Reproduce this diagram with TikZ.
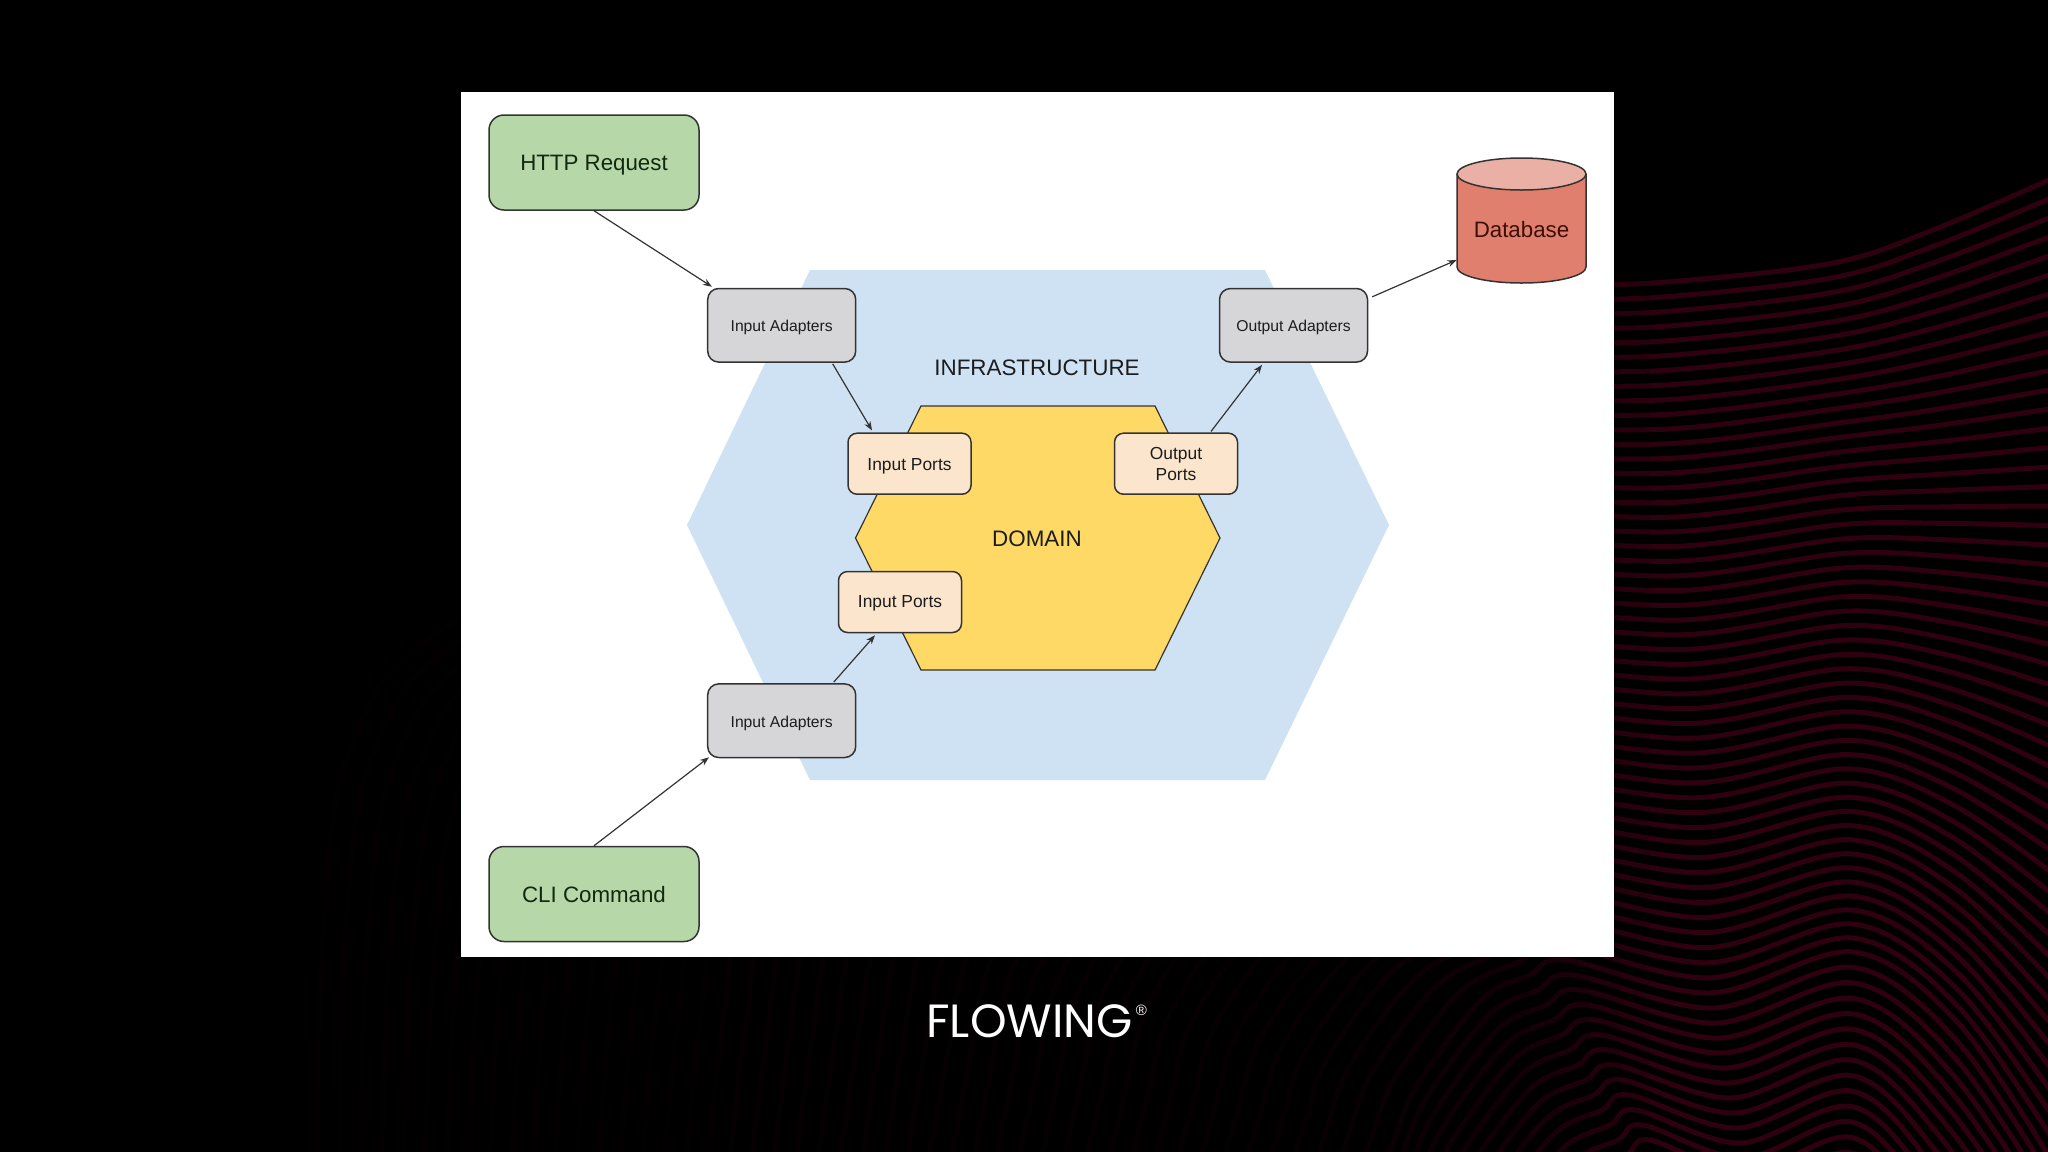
\documentclass[tikz,border=0pt]{standalone}
\usepackage{fontspec}
\setmainfont{Liberation Sans}
\newfontfamily\logofont{Poppins}
\usetikzlibrary{arrows.meta}
\definecolor{wavered}{HTML}{2E0010}
\definecolor{inkdark}{HTML}{333333}
\definecolor{greenfill}{HTML}{B6D7A8}
\definecolor{greyfill}{HTML}{D6D6D9}
\definecolor{peachfill}{HTML}{FCE5CD}
\definecolor{bluefill}{HTML}{CFE2F3}
\definecolor{yellowfill}{HTML}{FFD966}
\definecolor{redfill}{HTML}{E07F6D}
\definecolor{redtop}{HTML}{EBB0A5}
\definecolor{textdark}{HTML}{1C1C1C}
\definecolor{textgreen}{HTML}{12290F}
\definecolor{textred}{HTML}{3A0F08}
\tikzset{
  box/.style={draw=inkdark,line width=.75pt,rounded corners=5.5pt,inner sep=0pt,align=center,text=textdark},
  oneline/.style={text height=.72em,text depth=0pt},
  source/.style={box,text height=.84em,text depth=0pt,fill=greenfill,text=textgreen,rounded corners=7.5pt,minimum width=105pt,minimum height=47.5pt,font=\fontsize{11.15}{13}\selectfont},
  adapter/.style={box,text height=.64em,text depth=0pt,fill=greyfill,minimum width=74pt,minimum height=36.8pt,font=\fontsize{7.85}{10}\selectfont},
  port/.style={box,fill=peachfill,minimum width=61.5pt,minimum height=30.5pt,rounded corners=4.5pt,font=\fontsize{8.7}{10.5}\selectfont},
  biglabel/.style={inner sep=0pt,text=textdark,font=\fontsize{11.2}{13}\selectfont},
  conn/.style={draw=inkdark,line width=.6pt,-{Stealth[length=4.5pt,width=3.4pt]}},
  wave/.style={draw=wavered,line width=2.5pt},
}
\begin{document}
\begin{tikzpicture}[x=0.5pt,y=-0.5pt]
\useasboundingbox (0,0) rectangle (2048,1151.4);
\clip (0,-4) rectangle (2048,1156);
\fill[black] (0,-4) rectangle (2048,1156);
% background wave lines
\foreach \i in {0,...,48}{
  \pgfmathsetmacro{\t}{\i/48}
  \pgfmathsetmacro{\w}{\t*\t*\t}
  \draw[wave] plot[smooth,tension=.55] coordinates {
    ({318+\t*(1340-318)},{1200+\t*(1280-1200)})
    ({322+\t*(1390-322)},{950+\t*(1152-950)})
    ({350+\t*(1416-350)},{750+\t*(1087-750)})
    ({457+\t*(1481-457)},{620+\t*(1000-620)})
    ({900+\t*(1530-900)},{400+\t*(975-400)})
    ({1400+\t*(1566-1400)},{300+\t*(960-300)})
    ({1667+\t*(1710-1667)},{282+\t*(985-282)+8*\w})
    ({1833+\t*(1854-1833)},{263+\t*(962-263)-10*\w})
    ({1933+\t*(1960-1933)},{230+\t*(1010-230)+15*\w})
    (2060,{175+\t*(1100-175)+75*\w})
  };
}
\foreach \n in {1,...,14}{
  \draw[wave] plot[smooth,tension=.55] coordinates {
    ({1340+8*\n},{1280+15*\n})
    ({1390+8*\n},{1152+15*\n})
    ({1416+8*\n},{1087+15*\n})
    ({1481+8*\n},{1000+15*\n})
    ({1530+8*\n},{975+15*\n})
    ({1566+7*\n},{960+15*\n})
    ({1710+3*\n},{993+15*\n})
    ({1854},{952+15.5*\n})
    ({1960-2*\n},{1025+17*\n})
    (2060,{1175+19*\n})
  };
}
% fade of the wave lines towards the left
\foreach \s in {0,...,47}{
  \pgfmathsetmacro{\xa}{240+30*\s}
  \pgfmathsetmacro{\xb}{\xa+30}
  \pgfmathsetmacro{\op}{\xa<700 ? 0.9 : (\xa<1300 ? 0.85 : (\xa<1500 ? 0.85-(\xa-1300)*0.00125 : max(0,0.60-(\xa-1500)*0.004)))}
  \fill[black,opacity=\op] (\xa,-4) rectangle (\xb,1156);
}
\fill[black] (0,-4) rectangle (240,1156);
% white panel
\fill[white] (461,92) rectangle (1614,957);
% hexagons
\fill[bluefill] (810,270) -- (1265,270) -- (1389,525) -- (1265,780) -- (810,780) -- (687,525) -- cycle;
\draw[fill=yellowfill,draw=inkdark,line width=.6pt] (921,406) -- (1155,406) -- (1220,538) -- (1155,670) -- (921,670) -- (855.5,538) -- cycle;
% database cylinder
\draw[fill=redfill,draw=inkdark,line width=.75pt] (1457,174) -- (1457,267) arc[start angle=180,end angle=360,x radius=64.5,y radius=-16] -- (1586,174);
\draw[fill=redtop,draw=inkdark,line width=.75pt] (1521.5,174) ellipse[x radius=64.5,y radius=16];
\node[inner sep=0pt,minimum width=64.5pt,minimum height=50pt,text=textred,font=\fontsize{11.15}{13}\selectfont] (db) at (1521.5,230) {Database};
% nodes
\node[source] (http) at (594,162.5) {HTTP Request};
\node[source] (cli) at (594,894) {CLI Command};
\node[adapter] (ia1) at (781.7,325.3) {Input Adapters};
\node[adapter] (ia2) at (781.7,720.7) {Input Adapters};
\node[adapter] (oa) at (1293.5,325.3) {Output Adapters};
\node[port,oneline] (ip1) at (909.5,463.7) {Input Ports};
\node[port,text height=.57em,text depth=0pt] (ip2) at (900,602) {Input Ports};
\node[port] (op) at (1176,463.7) {Output\\Ports};
\node[biglabel] (infra) at (1037,367.7) {INFRASTRUCTURE};
\node[biglabel] (domain) at (1037,538.7) {DOMAIN};
% connectors
\draw[conn] (http.south) -- ([shift={(5,-1)}]ia1.north west);
\draw[conn] ([shift={(51,1)}]ia1.south) -- ([shift={(-37.5,-2)}]ip1.north);
\draw[conn] ([shift={(52,-1)}]ia2.north) -- ([shift={(-25,2)}]ip2.south);
\draw[conn] (cli.north) -- ([shift={(2,-1)}]ia2.south west);
\draw[conn] ([shift={(35,-1)}]op.north) -- ([shift={(-31.5,2)}]oa.south);
\draw[conn] ([shift={(4,-28.5)}]oa.east) -- ([shift={(0,30)}]db.west);
% logo
\node[inner sep=0pt,text=white,font=\logofont\fontsize{23.3}{26}\selectfont] (logo) at (1029.5,1021) {FLOWING};
\node[inner sep=0pt,text=white,font=\fontsize{7.5}{8}\selectfont] (reg) at (1141.5,1010.5) {®};
\end{tikzpicture}
\end{document}
